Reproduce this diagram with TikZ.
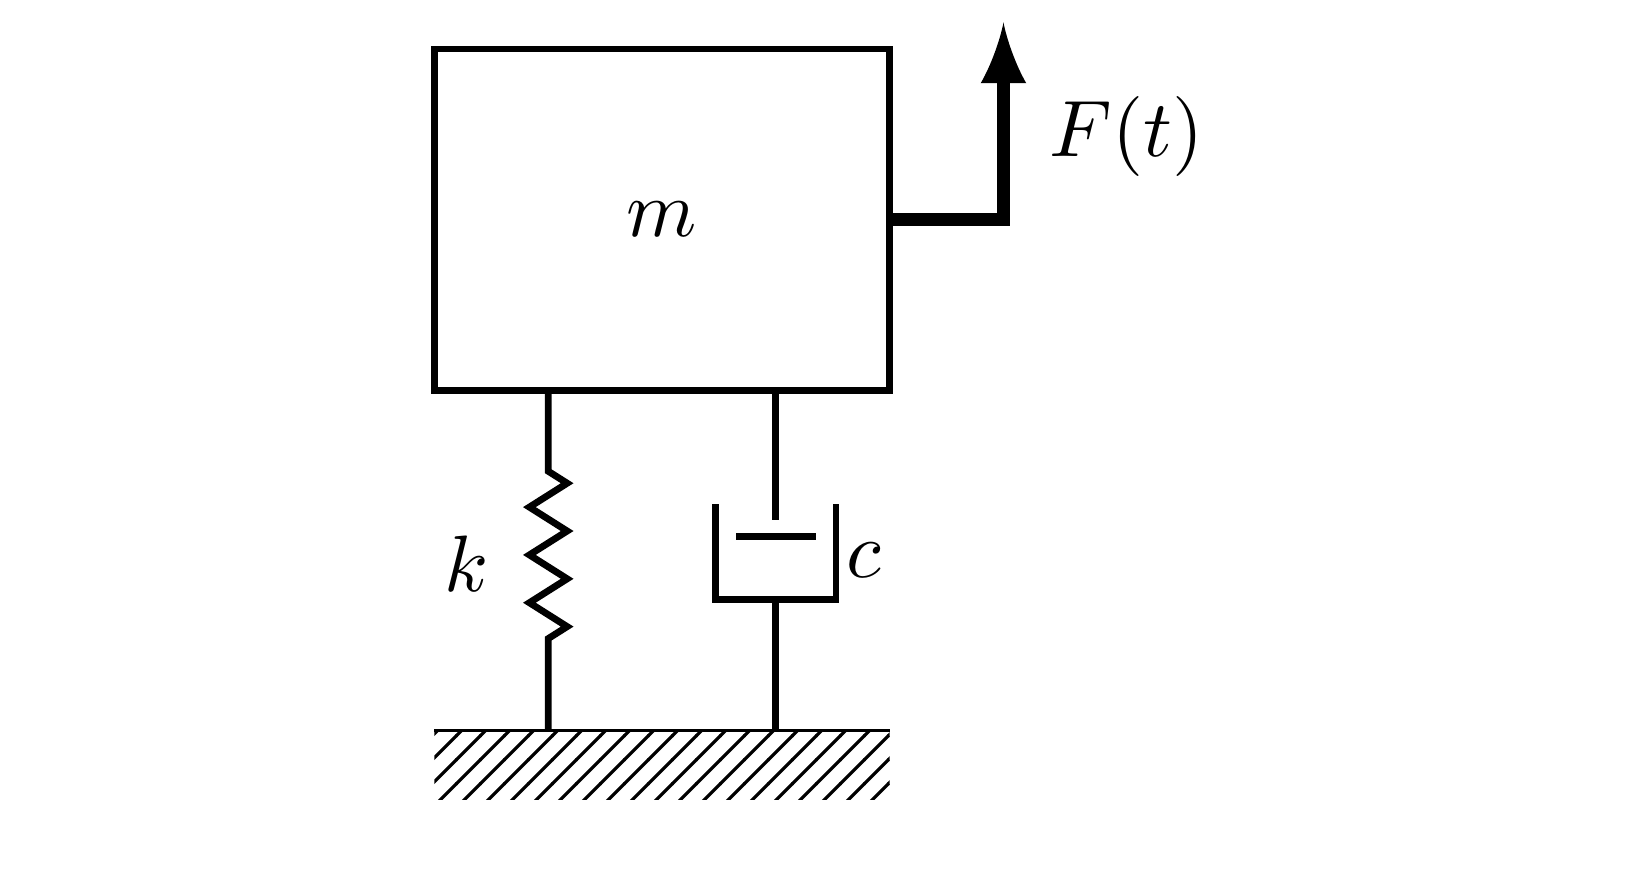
\documentclass[tikz,border=0pt]{standalone}
\usetikzlibrary{decorations.pathmorphing,patterns}

\tikzset{
  part/.style={line width=.85pt},
  force/.style={line width=1.6pt,->,>=latex},
  groundfill/.style={pattern=north east lines,minimum width=2cm,minimum height=.3cm,inner sep=0pt,outer sep=0pt},
  coil/.style={part,decorate,decoration={zigzag,amplitude=.083cm,segment length=.21cm,pre length=.355cm,post length=.3cm}}
}

\begin{document}
\begin{tikzpicture}
  \useasboundingbox (-1.909,-2.1515) rectangle (5.244,1.7155);

  \node (mass) at (1,.75)[part,draw,minimum width=2cm,minimum height=1.5cm,outer sep=0pt]{$m$};
  \node (ground) at (1,-1.645)[groundfill]{};
  \draw[line width=.4pt] (ground.north west) -- (ground.north east);

  % spring
  \coordinate (springtop) at (.5,0);
  \coordinate (springend) at (.5,-1.495);
  \draw[coil] (springtop) -- (springend);
  \node (klabel) at (.14,-.76){$k$};

  % damper
  \coordinate (dampertop) at (1.5,0);
  \coordinate (rodend) at (1.5,-.57);
  \coordinate (dampertl) at (1.236,-.5);
  \coordinate (dampertr) at (1.764,-.5);
  \coordinate (damperbl) at (1.236,-.92);
  \coordinate (damperbr) at (1.764,-.92);
  \coordinate (damperbot) at (1.5,-.92);
  \coordinate (damperend) at (1.5,-1.495);
  \coordinate (pistonl) at (1.325,-.641);
  \coordinate (pistonr) at (1.675,-.641);
  \draw[part] (dampertop) -- (rodend);
  \draw[part] (pistonl) -- (pistonr);
  \draw[part] (dampertl) -- (damperbl) -- (damperbr) -- (dampertr);
  \draw[part] (damperbot) -- (damperend);
  \node (clabel) at (1.888,-.745){$c$};

  % force
  \coordinate (forcetip) at (2.5,1.617);
  \draw[force] (mass.east) -| (forcetip);
  \node (flabel) at (3.04,1.116){$F(t)$};
\end{tikzpicture}
\end{document}
